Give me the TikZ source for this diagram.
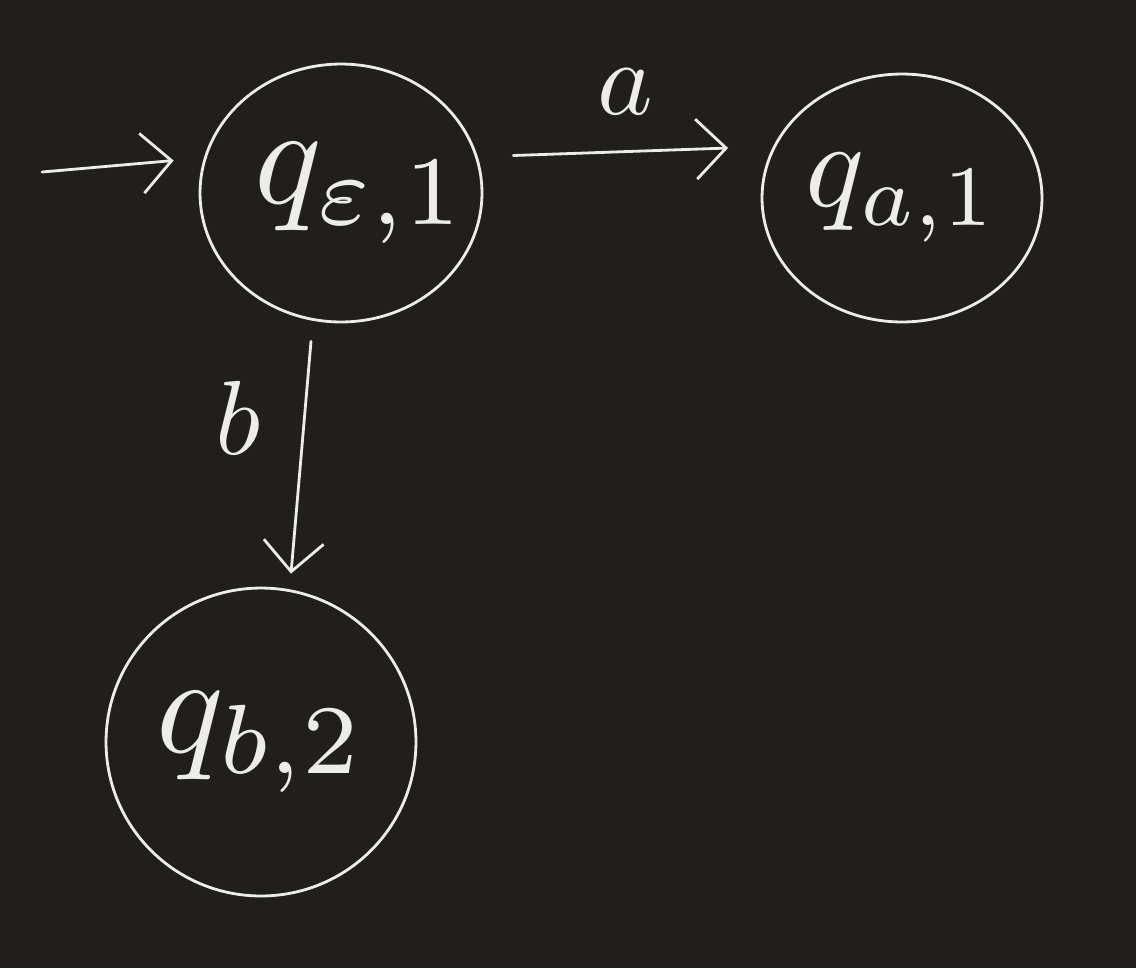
\documentclass[tikz,border=0pt]{standalone}
\usetikzlibrary{arrows.meta,shapes.geometric}
\definecolor{bg}{RGB}{32,31,30}
\definecolor{ink}{RGB}{236,236,232}
\tikzset{
  state/.style={draw=ink, line width=1.6pt, ellipse, inner sep=0pt, text=ink},
  arr/.style={draw=ink, line width=1.6pt, line cap=round,
    -{Straight Barb[length=6mm,width=12mm,line width=1.6pt]}},
  lbl/.style={text=ink, inner sep=0pt}
}
\begin{document}
\begin{tikzpicture}[x=0.02cm,y=-0.02cm]
  \fill[bg] (0,0) rectangle (1136,968);
  \useasboundingbox (0,0) rectangle (1136,968);
  \node[state, inner xsep=-0.8cm, minimum width=5.64cm, minimum height=5.16cm] (e) at (341,193) {\hspace{0.8cm}\scalebox{8}{$q_{\varepsilon,1}$}};
  \node[state, minimum width=5.6cm, minimum height=4.96cm] (a) at (902,198) {\scalebox{7}{$q_{a,1}$}};
  \node[state, minimum width=6.2cm, minimum height=6.16cm] (b) at (261,742) {\scalebox{8}{$q_{b,2}$}};
  \coordinate (s) at (42,172);
  \draw[arr] (s) -- ([xshift=-0.5cm,yshift=0.65cm]e.west);
  \draw[arr] ([xshift=0.6cm,yshift=0.75cm]e.east) -- ([xshift=-0.65cm,yshift=1.0cm]a.west);
  \draw[arr] ([xshift=-0.6cm,yshift=-0.36cm]e.south) -- ([xshift=0.6cm,yshift=0.26cm]b.north);
  \node[lbl] (la) at (625,92) {\scalebox{6}{$a$}};
  \node[lbl] (lb) at (238,418) {\scalebox{6}{$b$}};
\end{tikzpicture}
\end{document}
